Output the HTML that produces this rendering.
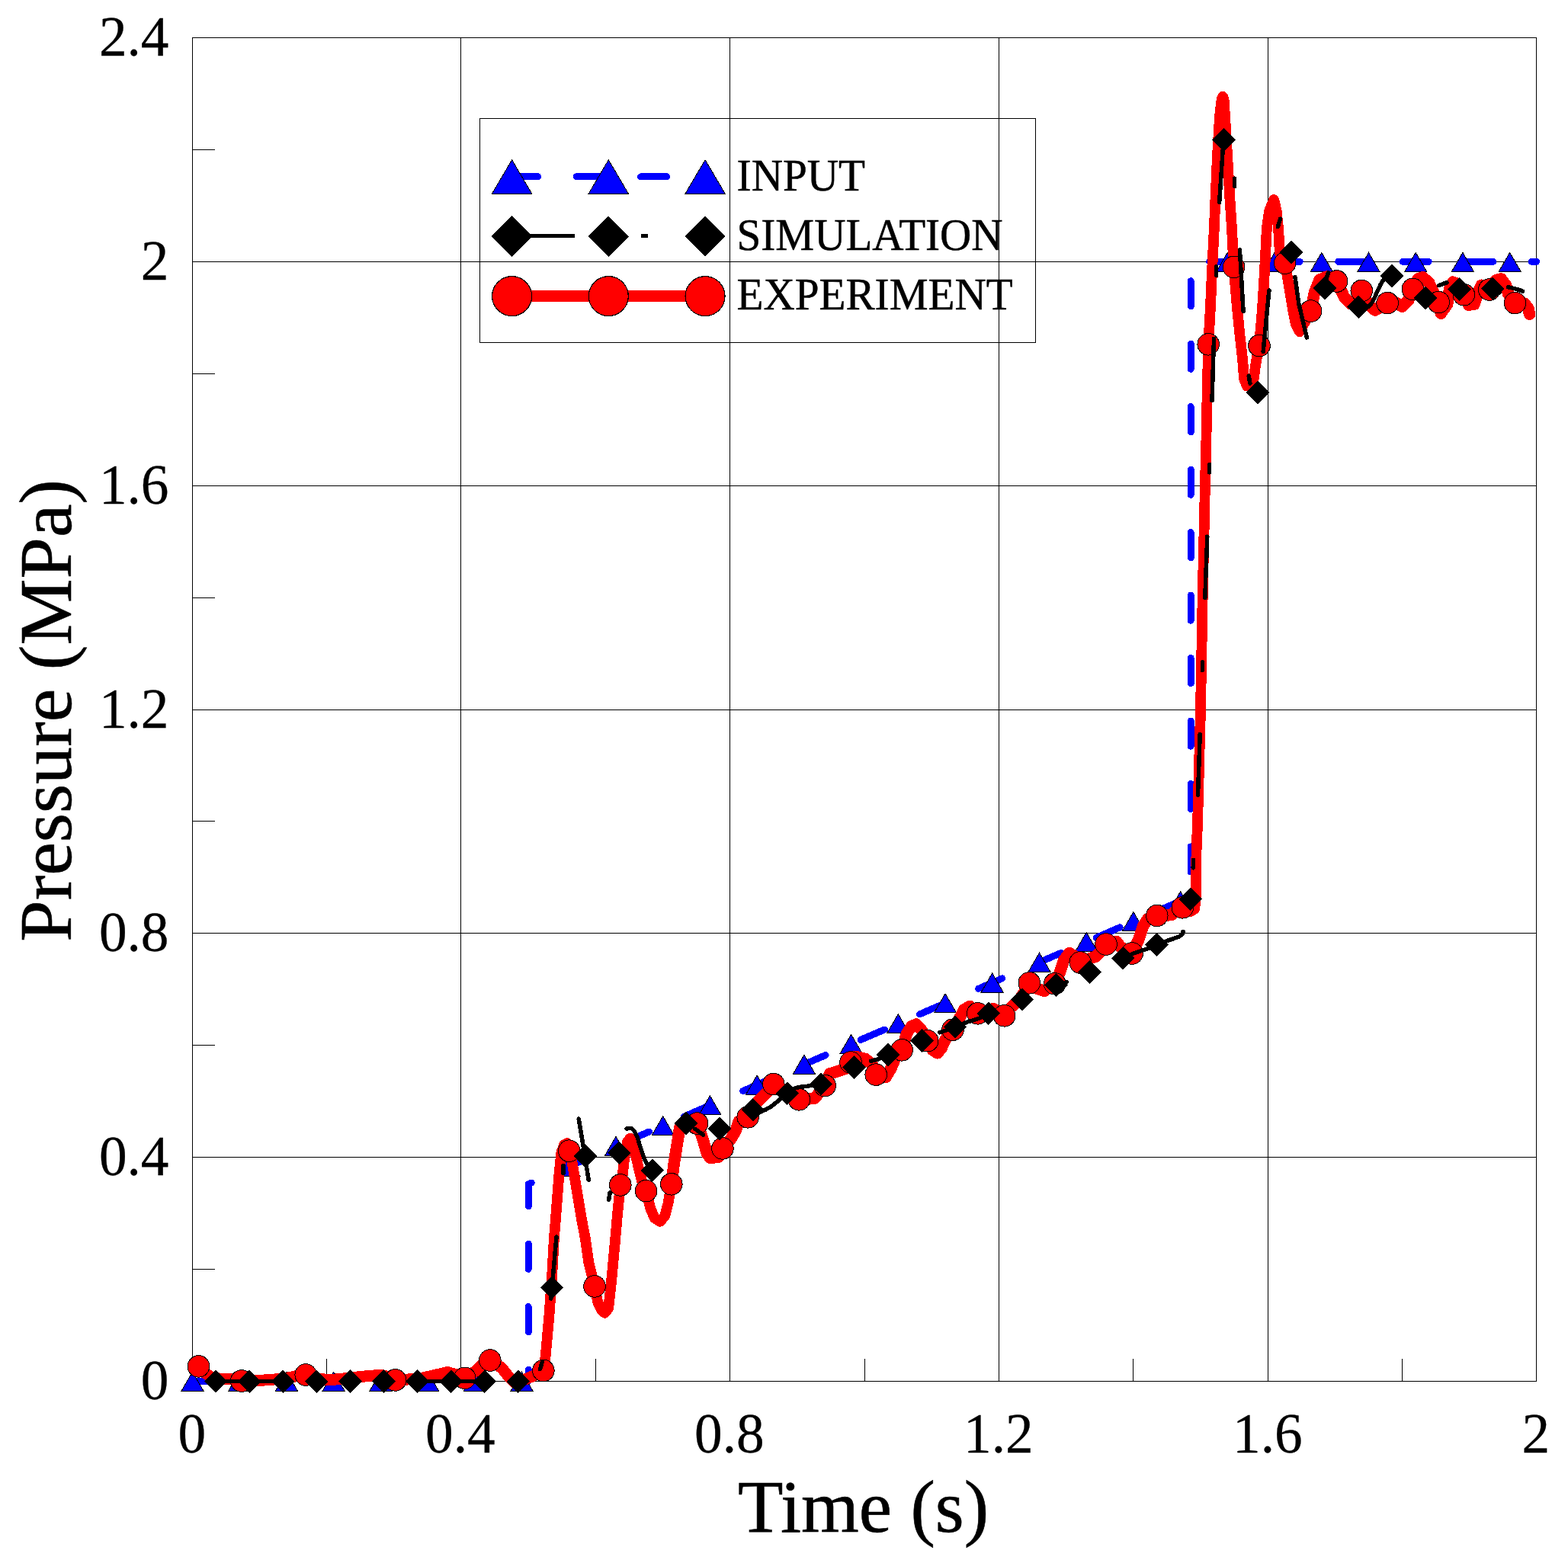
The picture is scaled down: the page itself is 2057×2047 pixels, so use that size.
<!DOCTYPE html>
<html><head><meta charset="utf-8"><title>Pressure vs Time</title>
<style>
html,body{margin:0;padding:0;background:#fff;}
body{width:2057px;height:2047px;overflow:hidden;}
svg{display:block;}
path,circle{shape-rendering:crispEdges;}
text{font-family:"Liberation Serif","Times New Roman",serif;fill:#000;}
</style></head><body>
<svg width="2057" height="2047" viewBox="0 0 2057 2047">
<rect x="0" y="0" width="2057" height="2047" fill="#fff"/>

<g fill="#000" shape-rendering="crispEdges">
<rect x="252" y="49" width="1" height="1764"/>
<rect x="604" y="49" width="1" height="1764"/>
<rect x="957" y="49" width="1" height="1764"/>
<rect x="1310" y="49" width="1" height="1764"/>
<rect x="1663" y="49" width="1" height="1764"/>
<rect x="2015" y="49" width="1" height="1764"/>
<rect x="252" y="49" width="1764" height="1"/>
<rect x="252" y="343" width="1764" height="1"/>
<rect x="252" y="637" width="1764" height="1"/>
<rect x="252" y="931" width="1764" height="1"/>
<rect x="252" y="1224" width="1764" height="1"/>
<rect x="252" y="1518" width="1764" height="1"/>
<rect x="252" y="1812" width="1764" height="1"/>
<rect x="428" y="1783" width="1" height="29"/>
<rect x="781" y="1783" width="1" height="29"/>
<rect x="1134" y="1783" width="1" height="29"/>
<rect x="1486" y="1783" width="1" height="29"/>
<rect x="1839" y="1783" width="1" height="29"/>
<rect x="252" y="196" width="30" height="1"/>
<rect x="252" y="490" width="30" height="1"/>
<rect x="252" y="784" width="30" height="1"/>
<rect x="252" y="1077" width="30" height="1"/>
<rect x="252" y="1371" width="30" height="1"/>
<rect x="252" y="1665" width="30" height="1"/>
<rect x="629" y="155" width="730" height="1"/>
<rect x="629" y="449" width="730" height="1"/>
<rect x="629" y="155" width="1" height="295"/>
<rect x="1358" y="155" width="1" height="295"/>
</g>
<g fill="none" stroke="#0000ff" stroke-width="9.0" stroke-linecap="round" stroke-linejoin="round">
<path d="M252.5 1812.5L286.5 1812.5M337.0 1812.5L371.0 1812.5M421.5 1812.5L455.5 1812.5M506.0 1812.5L540.0 1812.5M590.5 1812.5L624.5 1812.5M675.0 1812.5L693.2 1812.5L693.2 1797.1M693.2 1747.8L693.2 1714.6M693.2 1665.3L693.2 1632.1M693.2 1582.8L693.2 1553.8L697.1 1552.1M743.2 1532.1L774.3 1518.6M820.4 1498.5L851.5 1485.1M897.6 1465.0L928.7 1451.5M974.8 1431.5L1005.9 1418.0M1052.0 1398.0L1083.1 1384.5M1129.2 1364.4L1160.3 1351.0M1206.4 1330.9L1237.5 1317.4M1283.6 1297.4L1314.7 1283.9M1360.8 1263.9L1391.9 1250.4M1438.1 1230.4L1469.1 1216.9M1515.3 1196.8L1546.3 1183.3M1562.2 1144.1L1562.2 1110.9M1562.2 1061.6L1562.2 1028.5M1562.2 979.2L1562.2 946.0M1562.2 896.7L1562.2 863.5M1562.2 814.2L1562.2 781.0M1562.2 731.8L1562.2 698.6M1562.2 649.3L1562.2 616.1M1562.2 566.8L1562.2 533.6M1562.2 484.3L1562.2 451.2M1562.2 401.9L1562.2 368.7M1586.7 343.3L1620.7 343.3M1671.2 343.3L1705.2 343.3M1755.7 343.3L1789.7 343.3M1840.2 343.3L1874.2 343.3M1924.7 343.3L1958.7 343.3M2009.2 343.3L2015.5 343.3"/>
</g>
<g fill="#0000ff" stroke="#000" stroke-width="1" stroke-linejoin="miter">
<path d="M252.5 1800.2L267.0 1825.2L238.0 1825.2Z"/>
<path d="M314.2 1800.2L328.7 1825.2L299.7 1825.2Z"/>
<path d="M375.9 1800.2L390.4 1825.2L361.4 1825.2Z"/>
<path d="M437.7 1800.2L452.2 1825.2L423.2 1825.2Z"/>
<path d="M499.4 1800.2L513.9 1825.2L484.9 1825.2Z"/>
<path d="M561.1 1800.2L575.6 1825.2L546.6 1825.2Z"/>
<path d="M622.8 1800.2L637.3 1825.2L608.3 1825.2Z"/>
<path d="M684.5 1800.2L699.0 1825.2L670.0 1825.2Z"/>
<path d="M746.3 1518.2L760.8 1543.2L731.8 1543.2Z"/>
<path d="M808.0 1491.4L822.5 1516.4L793.5 1516.4Z"/>
<path d="M869.7 1464.6L884.2 1489.6L855.2 1489.6Z"/>
<path d="M931.4 1437.8L945.9 1462.8L916.9 1462.8Z"/>
<path d="M993.1 1411.0L1007.6 1436.0L978.6 1436.0Z"/>
<path d="M1054.9 1384.2L1069.4 1409.2L1040.4 1409.2Z"/>
<path d="M1116.6 1357.4L1131.1 1382.4L1102.1 1382.4Z"/>
<path d="M1178.3 1330.6L1192.8 1355.6L1163.8 1355.6Z"/>
<path d="M1240.0 1303.8L1254.5 1328.8L1225.5 1328.8Z"/>
<path d="M1301.7 1277.0L1316.2 1302.0L1287.2 1302.0Z"/>
<path d="M1363.5 1250.2L1378.0 1275.2L1349.0 1275.2Z"/>
<path d="M1425.2 1223.4L1439.7 1248.4L1410.7 1248.4Z"/>
<path d="M1486.9 1196.6L1501.4 1221.6L1472.4 1221.6Z"/>
<path d="M1548.6 1169.8L1563.1 1194.8L1534.1 1194.8Z"/>
<path d="M1610.3 331.4L1624.8 356.4L1595.8 356.4Z"/>
<path d="M1672.1 331.4L1686.6 356.4L1657.6 356.4Z"/>
<path d="M1733.8 331.4L1748.3 356.4L1719.3 356.4Z"/>
<path d="M1795.5 331.4L1810.0 356.4L1781.0 356.4Z"/>
<path d="M1857.2 331.4L1871.7 356.4L1842.7 356.4Z"/>
<path d="M1918.9 331.4L1933.4 356.4L1904.4 356.4Z"/>
<path d="M1980.7 331.4L1995.2 356.4L1966.2 356.4Z"/>
</g>
<g fill="none" stroke="#ff0000" stroke-linecap="round" stroke-linejoin="round">
<path d="M260.5 1792.9L268.0 1801.0L277.0 1807.0L290.0 1809.5L303.0 1809.5L316.7 1812.0L330.0 1811.0L341.6 1811.4L360.0 1810.0L375.0 1808.5L385.0 1806.6L393.0 1804.5L401.2 1804.0L409.0 1806.5L416.3 1809.4L434.8 1810.6L455.0 1808.5L472.0 1806.6L490.0 1805.0L501.7 1804.5L510.0 1807.0L518.6 1810.9L535.0 1810.0L553.5 1808.3L570.0 1804.5L587.1 1800.6L598.0 1803.5L609.7 1808.3L617.0 1804.0L623.4 1799.3L633.0 1790.0L642.8 1785.0L651.0 1789.0L659.6 1796.7L667.0 1806.0L675.1 1814.3L685.0 1811.5L695.9 1807.0L705.0 1803.0L712.9 1798.5" stroke-width="15.0"/>
<path d="M712.9 1798.5L715.5 1781.0L720.2 1729.0L724.0 1677.0L726.9 1625.0L729.2 1596.0L733.2 1544.0L736.3 1512.8L739.9 1502.4L744.1 1500.1L747.7 1506.6L750.3 1523.2L753.7 1544.0L762.3 1596.0L767.8 1625.0L772.2 1656.2L780.0 1687.9L784.1 1708.2L788.8 1718.6L793.5 1722.8L798.2 1716.5L799.7 1703.0L802.5 1677.0L804.9 1651.0L807.3 1625.0L809.8 1596.0L813.8 1554.9L816.4 1544.0L820.0 1512.8L823.1 1498.2L826.8 1493.6L830.4 1500.3L835.6 1523.2L841.8 1549.2L847.6 1562.7L853.3 1585.6L858.5 1598.1L865.8 1602.8L872.0 1596.0L876.2 1580.4L880.8 1553.8" stroke-width="13.8"/>
<path d="M880.8 1553.8L884.4 1525.6L888.6 1499.6L891.7 1479.8L895.4 1473.6L905.0 1472.0L914.6 1474.1L918.2 1484.0L923.4 1499.6L927.6 1514.2L931.8 1519.4L942.2 1518.3L947.9 1506.9L958.8 1494.4L965.0 1484.0L969.2 1471.5L981.2 1465.8L993.1 1446.6L1005.6 1434.1L1014.8 1422.6L1030.0 1434.0L1048.4 1442.8L1068.6 1441.3L1082.2 1424.6L1088.4 1409.0L1099.8 1405.4L1110.2 1401.8L1116.0 1394.0L1122.7 1386.5L1135.2 1389.5L1144.6 1397.0L1149.2 1410.1L1162.2 1413.2L1168.5 1402.8L1174.7 1388.2L1183.2 1377.8L1189.5 1356.0L1195.5 1347.0L1202.0 1344.0L1208.5 1351.0L1216.7 1365.7L1223.4 1377.7L1229.7 1381.8L1234.9 1375.6L1240.1 1364.2L1250.0 1351.2L1258.8 1336.1L1265.0 1324.6L1272.3 1320.5L1282.7 1329.8L1303.5 1323.6L1317.6 1332.8L1325.4 1322.6L1336.8 1312.2L1343.0 1302.8L1350.3 1289.8L1359.5 1296.8L1369.9 1300.3L1383.7 1290.8L1390.7 1275.4L1395.9 1259.8L1402.7 1250.5L1409.4 1254.6L1417.2 1263.0L1426.1 1258.8L1436.5 1255.7L1443.8 1248.4L1451.0 1239.0L1464.6 1235.4L1469.8 1242.2L1485.2 1251.0L1493.3 1233.9L1499.5 1215.2L1505.8 1205.8L1517.8 1201.5L1537.0 1200.6L1543.2 1193.9L1551.3 1190.8" stroke-width="15.5"/>
<path d="M1551.3 1190.8L1561.9 1196.0L1567.1 1192.8L1568.9 1178.8L1569.0 1142.4L1569.7 1111.2L1571.1 1080.0L1572.1 1040.0L1575.0 931.0L1577.9 771.0L1580.9 637.0L1582.2 588.0L1583.7 513.0L1585.2 451.8L1587.9 404.0L1590.2 352.0L1592.8 300.0L1594.7 256.0L1597.0 204.0L1600.1 152.0L1602.5 131.2L1604.1 126.8L1605.6 131.2L1607.0 152.0L1610.1 204.0L1613.1 256.0L1616.0 300.0L1618.6 352.0L1623.0 404.0L1626.5 440.0L1630.1 471.6L1632.0 496.6L1635.7 506.5L1640.7 504.9L1644.9 495.7L1647.0 479.9L1649.9 463.3L1651.9 453.7L1656.1 404.0L1659.2 352.0L1661.8 300.0L1665.1 276.8L1671.2 262.0L1674.6 276.8L1677.1 300.0L1678.8 331.2L1685.7 345.2L1688.8 362.4L1695.6 404.0L1699.8 424.8L1705.0 435.2L1710.4 425.2L1719.8 408.0" stroke-width="13.8"/>
<path d="M1719.8 408.0L1724.4 383.6L1731.2 367.0L1741.6 362.8L1753.6 369.0L1763.4 389.8L1772.8 399.2L1780.1 394.0L1786.3 381.5L1795.7 400.2L1804.0 407.0L1820.1 397.6L1831.0 397.1L1839.4 402.3L1847.7 394.0L1853.4 379.4L1860.2 365.9L1866.4 363.8L1874.7 371.1L1882.0 386.7L1887.2 396.6L1890.3 411.2L1898.6 399.2L1901.7 378.4L1905.9 370.1L1913.2 373.2L1920.4 386.7L1926.7 400.2L1934.0 399.2L1939.2 383.6L1943.3 374.2L1953.7 380.0L1962.0 368.0L1969.3 365.9L1975.6 374.2L1978.7 385.7L1987.5 397.6L2000.0 398.2L2004.8 404.4L2006.6 412.4" stroke-width="15.5"/>
</g>
<g fill="#ff0000" stroke="#000" stroke-width="1">
<circle cx="260.5" cy="1792.9" r="14.3"/>
<circle cx="316.7" cy="1812.0" r="14.3"/>
<circle cx="401.2" cy="1804.0" r="14.3"/>
<circle cx="518.6" cy="1810.9" r="14.3"/>
<circle cx="609.7" cy="1808.3" r="14.3"/>
<circle cx="642.8" cy="1785.0" r="14.3"/>
<circle cx="712.9" cy="1798.5" r="14.3"/>
<circle cx="746.7" cy="1510.2" r="14.3"/>
<circle cx="780.0" cy="1687.9" r="14.3"/>
<circle cx="813.8" cy="1554.9" r="14.3"/>
<circle cx="847.6" cy="1562.7" r="14.3"/>
<circle cx="880.8" cy="1553.8" r="14.3"/>
<circle cx="914.6" cy="1474.1" r="14.3"/>
<circle cx="947.9" cy="1506.9" r="14.3"/>
<circle cx="981.2" cy="1465.8" r="14.3"/>
<circle cx="1014.8" cy="1422.6" r="14.3"/>
<circle cx="1048.4" cy="1442.8" r="14.3"/>
<circle cx="1082.2" cy="1424.6" r="14.3"/>
<circle cx="1116.0" cy="1394.0" r="14.3"/>
<circle cx="1149.2" cy="1410.1" r="14.3"/>
<circle cx="1183.2" cy="1377.8" r="14.3"/>
<circle cx="1216.7" cy="1365.7" r="14.3"/>
<circle cx="1250.0" cy="1351.2" r="14.3"/>
<circle cx="1282.7" cy="1329.8" r="14.3"/>
<circle cx="1317.6" cy="1332.8" r="14.3"/>
<circle cx="1350.3" cy="1289.8" r="14.3"/>
<circle cx="1383.7" cy="1290.8" r="14.3"/>
<circle cx="1417.2" cy="1263.0" r="14.3"/>
<circle cx="1451.0" cy="1239.0" r="14.3"/>
<circle cx="1485.2" cy="1251.0" r="14.3"/>
<circle cx="1517.8" cy="1201.5" r="14.3"/>
<circle cx="1551.3" cy="1190.8" r="14.3"/>
<circle cx="1585.2" cy="451.8" r="14.3"/>
<circle cx="1618.6" cy="350.4" r="14.3"/>
<circle cx="1652.0" cy="453.6" r="14.3"/>
<circle cx="1685.7" cy="345.2" r="14.3"/>
<circle cx="1719.6" cy="408.1" r="14.3"/>
<circle cx="1753.6" cy="369.0" r="14.3"/>
<circle cx="1786.3" cy="381.5" r="14.3"/>
<circle cx="1820.1" cy="397.6" r="14.3"/>
<circle cx="1853.4" cy="379.4" r="14.3"/>
<circle cx="1887.2" cy="396.6" r="14.3"/>
<circle cx="1920.4" cy="386.7" r="14.3"/>
<circle cx="1953.7" cy="380.0" r="14.3"/>
<circle cx="1987.5" cy="397.6" r="14.3"/>
</g>
<g fill="none" stroke="#000" stroke-width="5.5" stroke-linecap="round" stroke-linejoin="round">
<path d="M283.0 1812.7L363.0 1812.7M543.0 1812.7L623.0 1812.7M711.3 1787.2L708.5 1796.6M730.0 1623.0L725.4 1674.9L722.8 1704.0M738.9 1529.4L738.9 1539.8M759.2 1468.1L764.9 1502.4L772.2 1548.2M800.2 1564.8L798.7 1574.2M822.1 1481.1L822.8 1480.9L824.5 1480.5L826.5 1480.3L828.3 1480.6L830.0 1481.9L831.7 1483.8L833.2 1486.3L834.6 1488.9L836.3 1493.0L837.8 1497.7L839.2 1502.7L840.8 1507.6L842.5 1512.5L844.2 1517.4L846.0 1522.2L848.1 1526.3L850.3 1529.4L852.9 1532.5L855.0 1534.8L855.9 1535.7M912.0 1481.4L922.4 1489.2M992.0 1461.0L992.9 1460.7L994.9 1460.0L997.6 1459.0L1000.0 1458.0L1002.5 1456.9L1005.0 1455.7L1007.7 1454.3L1010.4 1452.7L1014.3 1449.9L1018.5 1446.5L1022.5 1443.1L1026.0 1440.2L1027.8 1438.7L1029.5 1437.5L1031.0 1436.3L1032.8 1435.0L1035.3 1433.2L1037.9 1431.2L1040.7 1429.3L1043.7 1427.8L1047.4 1426.8L1051.4 1426.1L1055.4 1425.7L1059.3 1425.2L1063.2 1424.5L1067.3 1423.8L1070.6 1423.2L1072.0 1423.0M1142.5 1392.4L1153.9 1389.3M1232.8 1354.8L1233.9 1354.4L1236.7 1353.5L1240.1 1352.3L1243.2 1351.2L1245.6 1350.3L1248.0 1349.4L1250.5 1348.5L1253.1 1347.5L1256.6 1346.0L1260.4 1344.4L1264.3 1342.8L1268.2 1341.3L1272.4 1340.0L1276.6 1338.8L1280.9 1337.5L1284.8 1336.1L1288.5 1334.3L1292.5 1332.3L1295.5 1330.5L1296.8 1329.8M1390.0 1292.0L1399.5 1288.5M1473.5 1257.3L1488.1 1250.6L1506.8 1244.3L1517.5 1239.6L1532.8 1233.9L1546.5 1229.2L1551.0 1226.0L1552.0 1222.5M1565.6 1128.4L1565.2 1138.8M1574.2 963.4L1571.5 1043.0M1577.4 868.8L1577.4 879.5M1583.8 704.2L1580.8 784.3M1586.7 609.6L1586.7 619.8M1592.5 444.6L1590.0 525.7M1595.6 349.9L1595.6 361.4M1599.7 265.4L1604.1 197.8L1605.6 183.7M1619.7 234.2L1619.7 244.6M1626.4 328.1L1631.1 408.7M1638.2 493.2L1639.9 503.2M1664.9 381.1L1657.1 461.7M1679.5 287.2L1676.4 297.6M1698.9 363.4L1703.9 398.8L1714.3 443.0M1742.6 357.6L1740.0 366.0M1782.2 402.8L1783.6 403.1L1786.8 403.5L1790.5 403.8L1793.6 403.4L1795.4 402.4L1797.0 400.9L1798.4 399.1L1799.8 397.1L1802.0 393.3L1804.1 388.7L1806.1 383.8L1808.2 379.4L1809.9 376.0L1811.5 372.6L1813.3 369.5L1815.4 367.0L1818.3 365.1L1821.8 363.5L1824.7 362.4L1826.0 362.0M1887.4 374.6L1898.0 370.8M1961.0 386.5L1967.0 384.0M1978.7 376.8L1979.7 377.0L1982.2 377.6L1985.2 378.3L1988.0 379.0L1990.8 379.8L1993.9 380.8L1996.4 381.7L1997.4 382.0"/>
</g>
<g fill="#000" stroke="#000" stroke-width="1">
<path d="M283.0 1798.1L297.6 1812.7L283.0 1827.3L268.4 1812.7Z"/>
<path d="M327.1 1798.1L341.7 1812.7L327.1 1827.3L312.5 1812.7Z"/>
<path d="M371.2 1798.1L385.8 1812.7L371.2 1827.3L356.6 1812.7Z"/>
<path d="M415.3 1798.1L429.9 1812.7L415.3 1827.3L400.7 1812.7Z"/>
<path d="M459.4 1798.1L474.0 1812.7L459.4 1827.3L444.8 1812.7Z"/>
<path d="M503.5 1798.1L518.1 1812.7L503.5 1827.3L488.9 1812.7Z"/>
<path d="M547.6 1798.1L562.2 1812.7L547.6 1827.3L533.0 1812.7Z"/>
<path d="M591.7 1798.1L606.3 1812.7L591.7 1827.3L577.1 1812.7Z"/>
<path d="M635.8 1798.1L650.4 1812.7L635.8 1827.3L621.2 1812.7Z"/>
<path d="M679.9 1798.1L694.5 1812.7L679.9 1827.3L665.3 1812.7Z"/>
<path d="M724.0 1675.1L738.6 1689.7L724.0 1704.3L709.4 1689.7Z"/>
<path d="M768.0 1502.4L782.6 1517.0L768.0 1531.6L753.4 1517.0Z"/>
<path d="M812.2 1498.2L826.8 1512.8L812.2 1527.4L797.6 1512.8Z"/>
<path d="M855.9 1521.1L870.5 1535.7L855.9 1550.3L841.3 1535.7Z"/>
<path d="M900.0 1459.5L914.6 1474.1L900.0 1488.7L885.4 1474.1Z"/>
<path d="M944.0 1466.3L958.6 1480.9L944.0 1495.5L929.4 1480.9Z"/>
<path d="M987.9 1441.8L1002.5 1456.4L987.9 1471.0L973.3 1456.4Z"/>
<path d="M1032.7 1420.2L1047.3 1434.8L1032.7 1449.4L1018.1 1434.8Z"/>
<path d="M1077.0 1408.0L1091.6 1422.6L1077.0 1437.2L1062.4 1422.6Z"/>
<path d="M1120.6 1386.1L1135.2 1400.7L1120.6 1415.3L1106.0 1400.7Z"/>
<path d="M1164.8 1369.5L1179.4 1384.1L1164.8 1398.7L1150.2 1384.1Z"/>
<path d="M1209.4 1351.1L1224.0 1365.7L1209.4 1380.3L1194.8 1365.7Z"/>
<path d="M1253.1 1332.9L1267.7 1347.5L1253.1 1362.1L1238.5 1347.5Z"/>
<path d="M1296.8 1315.2L1311.4 1329.8L1296.8 1344.4L1282.2 1329.8Z"/>
<path d="M1341.0 1297.0L1355.6 1311.6L1341.0 1326.2L1326.4 1311.6Z"/>
<path d="M1385.5 1278.0L1400.1 1292.6L1385.5 1307.2L1370.9 1292.6Z"/>
<path d="M1429.4 1260.8L1444.0 1275.4L1429.4 1290.0L1414.8 1275.4Z"/>
<path d="M1473.4 1242.6L1488.0 1257.2L1473.4 1271.8L1458.8 1257.2Z"/>
<path d="M1517.5 1225.0L1532.1 1239.6L1517.5 1254.2L1502.9 1239.6Z"/>
<path d="M1561.6 1165.2L1576.2 1179.8L1561.6 1194.4L1547.0 1179.8Z"/>
<path d="M1605.6 169.1L1620.2 183.7L1605.6 198.3L1591.0 183.7Z"/>
<path d="M1649.9 500.3L1664.5 514.9L1649.9 529.5L1635.3 514.9Z"/>
<path d="M1694.0 316.3L1708.6 330.9L1694.0 345.5L1679.4 330.9Z"/>
<path d="M1738.0 363.4L1752.6 378.0L1738.0 392.6L1723.4 378.0Z"/>
<path d="M1782.2 388.2L1796.8 402.8L1782.2 417.4L1767.6 402.8Z"/>
<path d="M1826.0 347.4L1840.6 362.0L1826.0 376.6L1811.4 362.0Z"/>
<path d="M1870.0 376.3L1884.6 390.9L1870.0 405.5L1855.4 390.9Z"/>
<path d="M1914.5 364.8L1929.1 379.4L1914.5 394.0L1899.9 379.4Z"/>
<path d="M1958.4 364.3L1973.0 378.9L1958.4 393.5L1943.8 378.9Z"/>
</g>
<g fill="none" stroke="#0000ff" stroke-width="9.0" stroke-linecap="round">
<path d="M671.6 231.8L705.6 231.8M756.1 231.8L790.1 231.8M840.6 231.8L874.6 231.8M925.1 231.8L925.1 231.8"/></g>
<g fill="#0000ff" stroke="#000" stroke-width="1">
<path d="M671.6 209.8L698.1 254.8L645.1 254.8Z"/>
<path d="M798.3 209.8L824.8 254.8L771.8 254.8Z"/>
<path d="M925.1 209.8L951.6 254.8L898.6 254.8Z"/>
</g>
<g fill="none" stroke="#000" stroke-width="5" stroke-linecap="butt">
<path d="M671.6 309.6L754.1 309.6M841.1 309.6L849.6 309.6"/></g>
<g fill="#000" stroke="#000" stroke-width="1">
<path d="M671.6 284.1L697.6 310.1L671.6 336.1L645.6 310.1Z"/>
<path d="M798.3 284.1L824.3 310.1L798.3 336.1L772.3 310.1Z"/>
<path d="M925.1 284.1L951.1 310.1L925.1 336.1L899.1 310.1Z"/>
</g>
<path d="M671.6 388.6L925.1 388.6" fill="none" stroke="#ff0000" stroke-width="14.5"/>
<g fill="#ff0000" stroke="#000" stroke-width="1.2">
<circle cx="671.6" cy="388.6" r="26"/>
<circle cx="798.3" cy="388.6" r="26"/>
<circle cx="925.1" cy="388.6" r="26"/>
</g>
<g font-size="59.5" stroke="#000" stroke-width="0.5">
<text x="966.6" y="249.6" textLength="168.5" lengthAdjust="spacingAndGlyphs">INPUT</text>
<text x="966.6" y="327.5" textLength="349" lengthAdjust="spacingAndGlyphs">SIMULATION</text>
<text x="966.6" y="405.5" textLength="362" lengthAdjust="spacingAndGlyphs">EXPERIMENT</text>
</g>
<g font-size="73.3" text-anchor="end" stroke="#000" stroke-width="0.3">
<text x="221.5" y="72.8">2.4</text>
<text x="221.5" y="366.8">2</text>
<text x="221.5" y="660.8">1.6</text>
<text x="221.5" y="954.8">1.2</text>
<text x="221.5" y="1247.8">0.8</text>
<text x="221.5" y="1541.8">0.4</text>
<text x="221.5" y="1835.8">0</text>
</g>
<g font-size="73.3" text-anchor="middle" stroke="#000" stroke-width="0.3">
<text x="251.8" y="1906.2">0</text>
<text x="603.8" y="1906.2">0.4</text>
<text x="956.8" y="1906.2">0.8</text>
<text x="1309.8" y="1906.2">1.2</text>
<text x="1662.8" y="1906.2">1.6</text>
<text x="2014.8" y="1906.2">2</text>
</g>
<text x="1132.6" y="2009.8" font-size="97.4" text-anchor="middle" stroke="#000" stroke-width="0.6">Time (s)</text>
<text transform="translate(93.2 932.3) rotate(-90)" font-size="97.4" text-anchor="middle" textLength="607" lengthAdjust="spacingAndGlyphs" stroke="#000" stroke-width="0.6">Pressure (MPa)</text>
</svg></body></html>
